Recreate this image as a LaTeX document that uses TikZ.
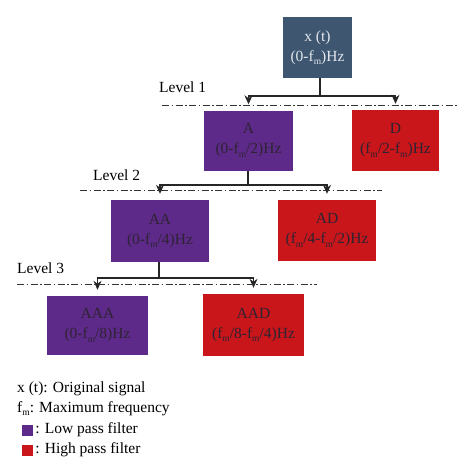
\documentclass[tikz,border=0pt]{standalone}
\usepackage{fontspec}
\setmainfont{Liberation Serif}
\usetikzlibrary{arrows.meta}
\definecolor{sigblue}{RGB}{62,86,112}
\definecolor{lowpurple}{RGB}{94,42,138}
\definecolor{highred}{RGB}{200,22,27}
\definecolor{boxtext}{RGB}{45,35,50}
\newcommand{\fm}{f\raisebox{-0.45ex}{\fontsize{9.5}{10}\selectfont m}}
\tikzset{
  filterbox/.style={rectangle,inner sep=0pt,align=center,font=\fontsize{15.5}{20}\selectfont,text=boxtext},
  lowbox/.style={filterbox,fill=lowpurple},
  highbox/.style={filterbox,fill=highred},
  link/.style={line width=1.2pt,black!85},
  branch/.style={link,-{Stealth[length=9pt,width=8pt]},shorten >=6pt},
  levelline/.style={line width=0.9pt,black!80,dash pattern=on 7pt off 2.5pt on 1.5pt off 2.5pt},
  legendtext/.style={anchor=west,inner sep=0pt,font=\fontsize{15.5}{18}\selectfont}
}
\begin{document}
\begin{tikzpicture}[x=1pt,y=1pt,yscale=-1,xscale=1]
\useasboundingbox (0,0) rectangle (474,474);

%Shape: Rectangle [signal]
\node [filterbox,fill=sigblue,text={rgb,255:red,225;green,230;blue,236},minimum width=69pt,minimum height=61pt] (xt) at (317.5,47.5) {x (t)\\(0-\fm)Hz};
%Shape: Rectangle [level 1]
\node [lowbox,minimum width=89pt,minimum height=60pt] (A) at (248.5,140.5) {A\\(0-\fm/2)Hz};
\node [highbox,minimum width=87pt,minimum height=61pt] (D) at (395.5,140.5) {D\\(\fm/2-\fm)Hz};
%Shape: Rectangle [level 2]
\node [lowbox,minimum width=98pt,minimum height=62pt] (AA) at (160,231) {AA\\(0-\fm/4)Hz};
\node [highbox,minimum width=98pt,minimum height=61pt] (AD) at (327,230.5) {AD\\(\fm/4-\fm/2)Hz};
%Shape: Rectangle [level 3]
\node [lowbox,minimum width=101pt,minimum height=59pt] (AAA) at (97.5,325.5) {AAA\\(0-\fm/8)Hz};
\node [highbox,minimum width=101pt,minimum height=62pt] (AAD) at (253.5,325) {AAD\\(\fm/8-\fm/4)Hz};

%Straight Lines [branches]
\coordinate (b1) at (320,96);
\coordinate (b2) at (248,185);
\coordinate (b3) at (159,278);
\draw [link] (xt.south -| b1) -- (b1);
\draw [branch] (b1) -| (A.north);
\draw [branch] (b1) -| (D.north);
\draw [link] (A.south -| b2) -- (b2);
\draw [branch] (b2) -| (AA.north);
\draw [branch] (b2) -| (AD.north);
\draw [link] (AA.south -| b3) -- (b3);
\draw [branch] (b3) -| (AAA.north);
\draw [branch] (b3) -| (AAD.north);

%Dash Dot Lines [levels]
\coordinate (l1a) at (162,105); \coordinate (l1b) at (458,105);
\coordinate (l2a) at (80,190);  \coordinate (l2b) at (382,190);
\coordinate (l3a) at (17,284);  \coordinate (l3b) at (317,284);
\draw [levelline] (l1a) -- (l1b);
\draw [levelline] (l2a) -- (l2b);
\draw [levelline] (l3a) -- (l3b);

% Text Node
\node [legendtext] (lev1) at (159,87) {Level 1};
% Text Node
\node [legendtext] (lev2) at (93,175) {Level 2};
% Text Node
\node [legendtext] (lev3) at (17,268) {Level 3};

% Legend
\node [legendtext] (leg1) at (17,389) {x (t): Original signal};
\node [legendtext] (leg2) at (17,409) {\fm: Maximum frequency};
\node [fill=lowpurple,minimum size=11pt,inner sep=0pt] (sqlow) at (27.5,430) {};
\node [legendtext] (leg3) at ([xshift=2pt]sqlow.east) {: Low pass filter};
\node [fill=highred,minimum size=11pt,inner sep=0pt] (sqhigh) at (27.5,450) {};
\node [legendtext] (leg4) at ([xshift=2pt]sqhigh.east) {: High pass filter};
\end{tikzpicture}
\end{document}
